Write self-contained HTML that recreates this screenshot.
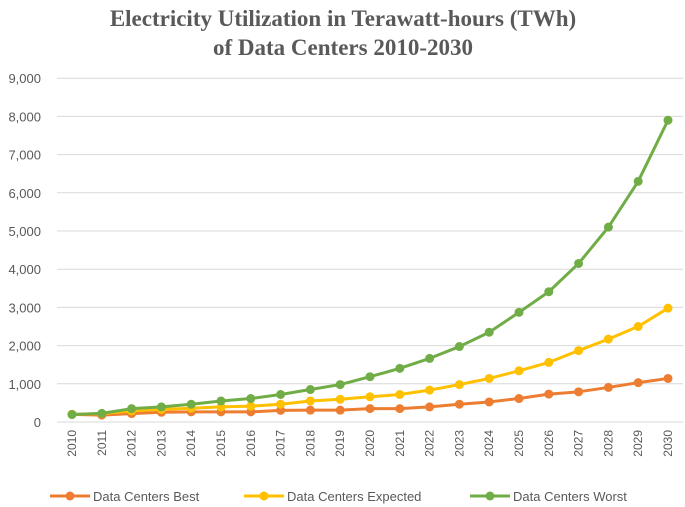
<!DOCTYPE html>
<html><head><meta charset="utf-8"><style>
body{margin:0;background:#fff;}
svg{display:block;font-family:"Liberation Sans",sans-serif;}
</style></head><body>
<svg id="chart" width="685" height="507">
<text x="343" y="26" text-anchor="middle" font-family="Liberation Serif" font-weight="bold" font-size="23" fill="#595959">Electricity Utilization in Terawatt-hours (TWh)</text>
<text x="343" y="55" text-anchor="middle" font-family="Liberation Serif" font-weight="bold" font-size="23" fill="#595959">of Data Centers 2010-2030</text>
<g id="grid"></g><g id="series"></g><g id="xlabels"></g><g id="legend"></g>
</svg>
<script>
const years=[2010,2011,2012,2013,2014,2015,2016,2017,2018,2019,2020,2021,2022,2023,2024,2025,2026,2027,2028,2029,2030];
const best=[200,180,220,255,265,265,265,305,310,310,350,350,395,465,525,615,730,790,905,1030,1140];
const expected=[200,220,290,330,360,395,415,465,550,595,660,720,835,980,1140,1340,1560,1870,2170,2500,2980];
const worst=[195,225,350,395,465,550,615,720,850,980,1185,1405,1665,1975,2350,2870,3410,4150,5100,6300,7900];
const yTicks=[0,1000,2000,3000,4000,5000,6000,7000,8000,9000];
const seriesNames=["Data Centers Best","Data Centers Expected","Data Centers Worst"];
const NS="http://www.w3.org/2000/svg";
const x=i=>72+i*29.8;
const y=v=>422-v/1000*38.2;
function mk(t,a,p){const e=document.createElementNS(NS,t);for(const k in a)e.setAttribute(k,a[k]);p.appendChild(e);return e;}
const grid=document.getElementById('grid');
yTicks.forEach(v=>{
  const l=mk('line',{x1:57,x2:683,y1:y(v),y2:y(v),stroke:'#d9d9d9','stroke-width':1},grid);
  
  
  const t=mk('text',{x:41,y:y(v)+5,'text-anchor':'end','font-size':13,fill:'#595959'},grid);
  t.textContent=v.toLocaleString('en-US');
  
  
});
const xl=document.getElementById('xlabels');
years.forEach((yr,i)=>{
  const t=mk('text',{x:0,y:0,'text-anchor':'end','font-size':12,fill:'#595959',transform:`translate(${x(i)+4},430) rotate(-90)`},xl);
  t.textContent=yr;
  
  
});
const colors=['#ed7d31','#ffc000','#70ad47'];
const sg=document.getElementById('series');
[best,expected,worst].forEach((d,s)=>{
  const g=mk('g',{},sg);
  
  
  const p=mk('polyline',{points:d.map((v,i)=>x(i)+','+y(v)).join(' '),fill:'none',stroke:colors[s],'stroke-width':3,'stroke-linejoin':'round'},g);
  
  
  d.forEach((v,i)=>{
    const c=mk('circle',{cx:x(i),cy:y(v),r:4.5,fill:colors[s]},g);
    
    
  });
});
const lg=document.getElementById('legend');
const lx=[50,244,470];
seriesNames.forEach((n,s)=>{
  const g=mk('g',{},lg);
  
  
  mk('line',{x1:lx[s],x2:lx[s]+40,y1:496,y2:496,stroke:colors[s],'stroke-width':3},g);
  mk('circle',{cx:lx[s]+20,cy:496,r:4.5,fill:colors[s]},g);
  const t=mk('text',{x:lx[s]+43,y:501,'font-size':13,fill:'#595959'},g);
  t.textContent=n;
});
</script>
</body></html>
